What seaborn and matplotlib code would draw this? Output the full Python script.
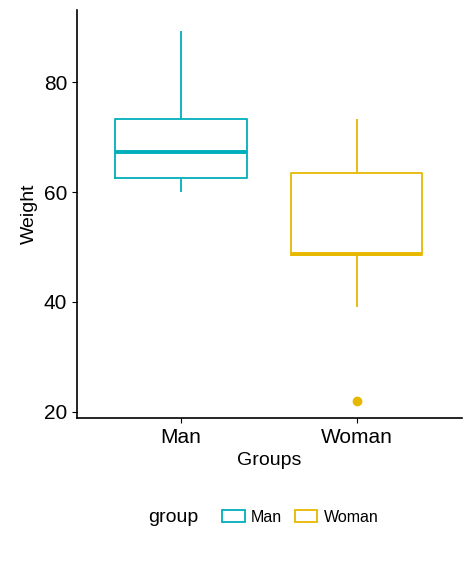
import matplotlib
matplotlib.use("Agg")
import matplotlib.pyplot as plt
import seaborn as sns
import pandas as pd
from matplotlib.patches import Patch

groups = ["Man", "Woman"]
man_weight = [60, 62.5, 62.5, 67.3, 73.3, 73.3, 89.3]
woman_weight = [22, 39, 48.5, 48.6, 48.8, 55, 63.5, 68, 73.2]
colors = {"Man": "#00AFBB", "Woman": "#E7B800"}

df = pd.DataFrame({
    "group": ["Man"] * len(man_weight) + ["Woman"] * len(woman_weight),
    "weight": man_weight + woman_weight,
})

sns.set_style("ticks")
plt.rcParams["font.family"] = ["Liberation Sans", "DejaVu Sans"]
plt.rcParams["text.color"] = "black"
fig = plt.figure(figsize=(4.74, 5.68), dpi=100)
ax = fig.add_axes([77/474, 1-418/568, (462-77)/474, (418-10)/568])
sns.boxplot(data=df, x="group", y="weight", hue="group", palette=colors,
            order=groups, fill=False, width=0.75, dodge=False, legend=False,
            linewidth=1.3, whis=1.5, ax=ax, capprops={"linewidth": 0},
            medianprops={"linewidth": 2.8},
            flierprops={"marker": "o", "markersize": 6})
for l in ax.lines:
    if l.get_marker() == "o":
        l.set_markerfacecolor(l.get_markeredgecolor())
ax.set_xlim(-0.59, 1.6)
ax.set_ylim(18.9, 93.1)
ax.set_yticks([20, 40, 60, 80])
ax.set_xlabel("Groups", fontsize=14, color="black")
ax.set_ylabel("Weight", fontsize=14, color="black")
ax.tick_params(labelsize=15, colors="black")
for s in ["top", "right"]:
    ax.spines[s].set_visible(False)
for s in ["left", "bottom"]:
    ax.spines[s].set_linewidth(1.2)
    ax.spines[s].set_color("black")

handles = [Patch(facecolor="white", edgecolor=colors[g], linewidth=1.3, label=g) for g in groups]
fig.text(148/474, 1-517/568, "group", fontsize=14, va="center", ha="left")
fig.legend(handles=handles, loc="center left", bbox_to_anchor=(208/474, 1-517/568),
           ncol=2, frameon=False, fontsize=11.5, handlelength=1.4, handletextpad=0.4,
           columnspacing=0.8)
fig.savefig("out.png", dpi=100)
